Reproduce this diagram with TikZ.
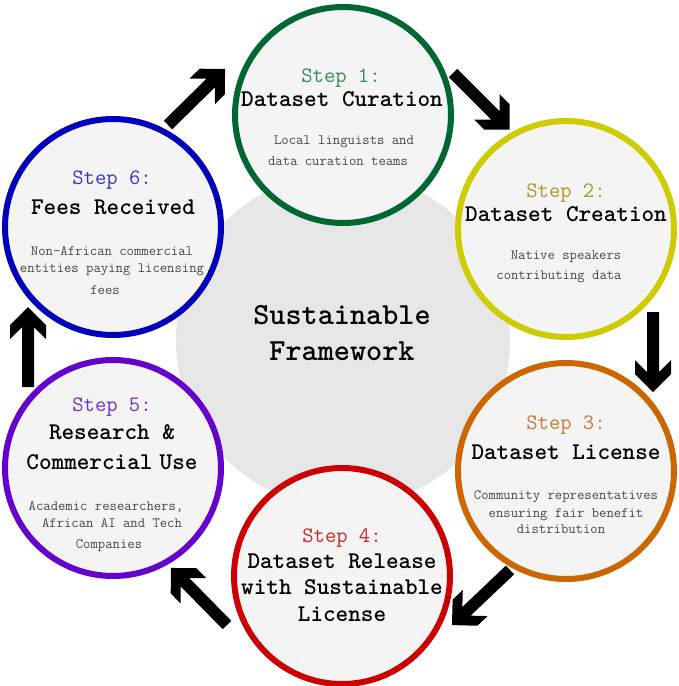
\documentclass[tikz,border=0pt]{standalone}
\usepackage{fontspec}
\definecolor{cgreen}{HTML}{006633}
\definecolor{cyellow}{HTML}{CCCC00}
\definecolor{corange}{HTML}{CC6600}
\definecolor{cred}{HTML}{CC0000}
\definecolor{cpurple}{HTML}{6600CC}
\definecolor{cblue}{HTML}{0000BB}
\definecolor{tgreen}{HTML}{3A8A5E}
\definecolor{tyellow}{HTML}{A0A02A}
\definecolor{torange}{HTML}{CC7A33}
\definecolor{tred}{HTML}{CC2828}
\definecolor{tpurple}{HTML}{6E32CC}
\definecolor{tblue}{HTML}{3535CC}
\definecolor{cfill}{HTML}{F4F4F4}
\definecolor{cbg}{HTML}{E6E6E6}
\definecolor{cdesc}{HTML}{484848}
\tikzset{
  stepcircle/.style={circle, draw=#1, line width=6pt, fill=cfill, minimum size=216pt, inner sep=0pt},
  txt/.style={inner sep=0pt, anchor=center, text height=.62em, text depth=.12em, yshift=-4pt},
  steplabel/.style={txt, text=#1, font=\ttfamily\fontsize{22}{25}\selectfont},
  titlelabel/.style={txt, text=black, font=\ttfamily\bfseries\fontsize{24}{27}\selectfont},
  desclabel/.style={txt, text=cdesc, font=\ttfamily\fontsize{14.3}{17}\selectfont},
  centerlabel/.style={txt, yshift=-3pt, text=black, font=\ttfamily\bfseries\fontsize{30.7}{34}\selectfont},
}
\newcommand{\blockarrow}[2]{%
  \begin{scope}[shift={(#1)}, rotate=#2]
    \fill[black] (0,6) -- (60,6) -- (48,18) -- (62,18) -- (80,0) -- (62,-18) -- (48,-18) -- (60,-6) -- (0,-6) -- cycle;
  \end{scope}}
\begin{document}
\begin{tikzpicture}[x=1pt, y=-1pt]
\useasboundingbox (0,0) rectangle (679,686);
\fill[white] (0,0) rectangle (679,686);
% central circle
\node[circle, fill=cbg, minimum size=334pt, inner sep=0pt] (hub) at (343,340) {};
% step circles
\node[stepcircle=cgreen]  (c1) at (343,115) {};
\node[stepcircle=cyellow] (c2) at (566,229) {};
\node[stepcircle=corange] (c3) at (566,471) {};
\node[stepcircle=cred]    (c4) at (342,576) {};
\node[stepcircle=cpurple] (c5) at (113,468) {};
\node[stepcircle=cblue]   (c6) at (113,227) {};
% arrows
\coordinate (a12) at (453,73);
\coordinate (a23) at (653,312);
\coordinate (a34) at (510,570);
\coordinate (a45) at (227,625);
\coordinate (a56) at (28,387);
\coordinate (a61) at (168,125);
\blockarrow{a12}{-45}
\blockarrow{a23}{-90}
\blockarrow{a34}{-136.5}
\blockarrow{a45}{134.5}
\blockarrow{a56}{90}
\blockarrow{a61}{44.5}
% center text
\node[centerlabel] (hub1) at (342,315) {Sustainable};
\node[centerlabel] (hub2) at (342,351) {Framework};
% step 1
\node[steplabel=tgreen] (s1) at (341,76) {Step 1:};
\node[titlelabel] (t1) at (342,100) {Dataset Curation};
\node[desclabel] (d1a) at (344,138) {Local linguists and};
\node[desclabel] (d1b) at (338,159) {data curation teams};
% step 2
\node[steplabel=tyellow] (s2) at (566,191) {Step 2:};
\node[titlelabel] (t2) at (566,215) {Dataset Creation};
\node[desclabel] (d2a) at (566,253) {Native speakers};
\node[desclabel] (d2b) at (559,273) {contributing data};
% step 3
\node[steplabel=torange] (s3) at (566,423) {Step 3:};
\node[titlelabel] (t3) at (566,453) {Dataset License};
\node[desclabel] (d3a) at (566,493) {Community representatives};
\node[desclabel] (d3b) at (566,511) {ensuring fair benefit};
\node[desclabel] (d3c) at (561,527) {distribution};
% step 4
\node[steplabel=tred] (s4) at (342,536) {Step 4:};
\node[titlelabel] (t4a) at (342,562) {Dataset Release};
\node[titlelabel] (t4b) at (342,588) {with Sustainable};
\node[titlelabel] (t4c) at (342,615) {License};
% step 5
\node[steplabel=tpurple] (s5) at (112,405) {Step 5:};
\node[titlelabel] (t5a) at (112,433) {Research \&};
\node[titlelabel] (t5b) at (112,463) {Commercial\hspace{0.3em}Use};
\node[desclabel] (d5a) at (106,504) {Academic researchers,};
\node[desclabel] (d5b) at (112,521) {African AI and Tech};
\node[desclabel] (d5c) at (109,542) {Companies};
% step 6
\node[steplabel=tblue] (s6) at (112,178) {Step 6:};
\node[titlelabel] (t6) at (113,208) {Fees Received};
\node[desclabel] (d6a) at (112,249) {Non-African commercial};
\node[desclabel] (d6b) at (112,266) {entities paying licensing};
\node[desclabel] (d6c) at (105,288) {fees};
\end{tikzpicture}
\end{document}
